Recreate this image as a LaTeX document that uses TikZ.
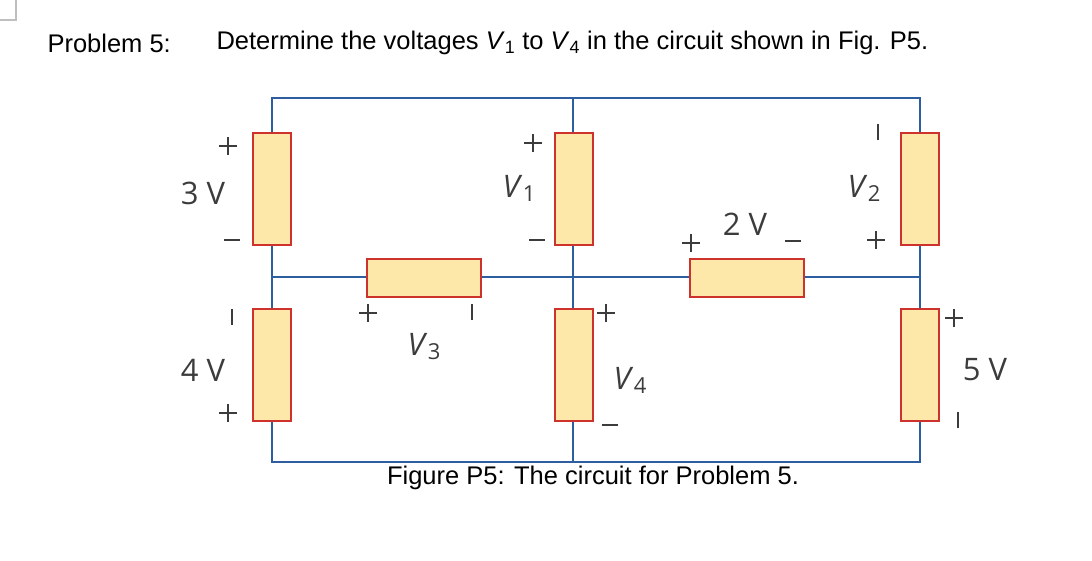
\documentclass[tikz,border=0pt]{standalone}
\usepackage{fontspec}
\setmainfont{Liberation Sans}
\newfontfamily\labfont{Open Sans}
\definecolor{wire}{RGB}{45,95,160}
\definecolor{rfill}{RGB}{253,232,170}
\definecolor{rline}{RGB}{205,50,45}
\definecolor{ink}{RGB}{60,60,60}
\newcommand{\vv}[1]{\textit{V}\kern0.5pt\raisebox{-4pt}{\fontsize{22}{24}\selectfont #1}}
\newcommand{\pl}{\rule[-1pt]{2pt}{18pt}\kern-10pt\rule[7pt]{18pt}{2pt}}
\newcommand{\mi}{\rule{16pt}{1.9pt}}
\begin{document}
\begin{tikzpicture}[x=1pt,y=-1pt,
  res/.style={draw=rline,fill=rfill,line width=1.3pt,minimum width=#1,inner sep=0pt},
  vres/.style={res=38pt,minimum height=112pt},
  hres/.style={res=114pt,minimum height=38pt},
  lab/.style={font=\labfont\fontsize{31}{33}\selectfont,text=ink,inner sep=0pt},
  sg/.style={text=ink,inner sep=0pt},
  wir/.style={draw=wire,line width=1.3pt}]
\useasboundingbox (0,0) rectangle (1092,560);
\draw[gray!50,line width=1.5pt] (0,20) -- (16,20) -- (16,0);
\node[anchor=west,font=\fontsize{25.5}{28}\selectfont] (p) at (44,43) {Problem 5:};
\node[anchor=west,font=\fontsize{25.5}{28}\selectfont] (q) at (213,43) {Determine the voltages \textit{V}\textsubscript{1} to \textit{V}\textsubscript{4} in the circuit shown in Fig. P5.};
\coordinate (a1) at (272,98); \coordinate (a2) at (573,98); \coordinate (a3) at (920,98);
\coordinate (b1) at (272,277); \coordinate (b3) at (920,277);
\coordinate (c1) at (272,462); \coordinate (c2) at (573,462); \coordinate (c3) at (920,462);
\draw[wir] (a1) -- (a3) -- (c3) -- (c1) -- cycle;
\draw[wir] (a2) -- (c2);
\draw[wir] (b1) -- (b3);
\node[vres] (r1) at (272,189) {};
\node[vres] (r2) at (574,189) {};
\node[vres] (r3) at (920,189) {};
\node[vres] (r4) at (272,365) {};
\node[vres] (r5) at (574,365) {};
\node[vres] (r6) at (920,365) {};
\node[hres] (r7) at (424,278) {};
\node[hres] (r8) at (747,278) {};
\node[sg] (l1) at (232,146) {\pl};
\node[lab] (l2) at (203,193) {3 V};
\node[sg] (l3) at (232,240) {\mi};
\node[sg,rotate=90] (l4) at (232,317) {\mi};
\node[lab] (l5) at (203,370) {4 V};
\node[sg] (l6) at (232,413) {\pl};
\node[sg] (l7) at (537,143) {\pl};
\node[lab] (l8) at (519,188) {\vv{1}};
\node[sg] (l9) at (537,240) {\mi};
\node[sg] (l10) at (372,313) {\pl};
\node[lab] (l11) at (424,347) {\vv{3}};
\node[sg,rotate=90] (l12) at (472,312) {\mi};
\node[sg,rotate=90] (l13) at (878,132) {\mi};
\node[lab] (l14) at (864,188) {\vv{2}};
\node[sg] (l15) at (880,240) {\pl};
\node[sg] (l16) at (695,243) {\pl};
\node[lab] (l17) at (745,224) {2 V};
\node[sg] (l18) at (793,241) {\mi};
\node[sg] (l19) at (610,313) {\pl};
\node[lab] (l20) at (630,380) {\vv{4}};
\node[sg] (l21) at (610,425) {\mi};
\node[sg] (l22) at (958,318) {\pl};
\node[lab] (l23) at (985,370) {5 V};
\node[sg,rotate=90] (l24) at (958,420) {\mi};
\node[font=\fontsize{25.5}{28}\selectfont] (cap) at (593,478) {Figure P5: The circuit for Problem 5.};
\end{tikzpicture}
\end{document}
